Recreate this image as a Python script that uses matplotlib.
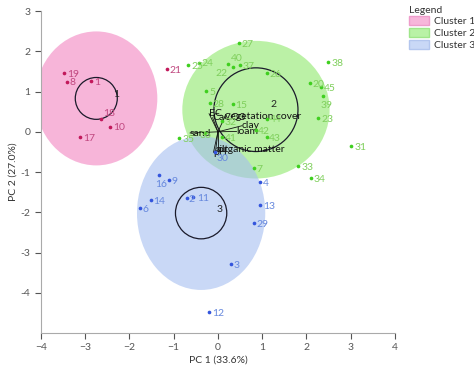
import matplotlib
matplotlib.use("Agg")
import matplotlib.pyplot as plt
import numpy as np
from matplotlib.patches import Ellipse, Patch

plt.rcParams["font.family"] = ["Lato", "DejaVu Sans"]

# region data
ids_1 = ["1", "8", "10", "17", "18", "19", "21"]
x_1 = [-2.86, -3.42, -2.44, -3.12, -2.65, -3.47, -1.15]
y_1 = [1.27, 1.25, 0.13, -0.12, 0.31, 1.46, 1.57]

ids_2 = ["5", "7", "15", "20", "22", "23", "24", "25", "26", "27", "28", "31",
         "32", "33", "34", "35", "36", "37", "38", "39", "40", "41", "42", "43",
         "44", "45"]
x_2 = [-0.26, 0.81, 0.33, 2.08, 0.23, 2.27, -0.43, -0.67, 1.10, 0.48, -0.18, 3.02,
       0.09, 1.82, 2.10, -0.87, -0.29, 0.50, 2.50, 2.38, 0.33, 0.09, 0.85, 1.10,
       1.12, 2.33]
y_2 = [1.02, -0.89, 0.69, 1.21, 1.68, 0.34, 1.72, 1.65, 1.46, 2.20, 0.71, -0.35,
       0.27, -0.84, -1.16, -0.16, -0.02, 1.65, 1.74, 0.89, 1.61, -0.12, 0.05, -0.13,
       0.33, 1.12]

ids_3 = ["2", "3", "4", "6", "9", "11", "12", "13", "14", "16", "29", "30"]
x_3 = [-0.69, 0.29, 0.95, -1.76, -1.11, -0.56, -0.20, 0.95, -1.52, -1.33, 0.81, -0.07]
y_3 = [-1.65, -3.28, -1.25, -1.89, -1.21, -1.63, -4.47, -1.83, -1.69, -1.08, -2.27, -0.50]

# cluster summary: centre, ellipse size, inner circle size
cluster_names = ["Cluster 1", "Cluster 2", "Cluster 3"]
centre_x = [-2.75, 0.86, -0.38]
centre_y = [0.83, 0.55, -2.02]
ell_w = [2.76, 3.33, 2.90]
ell_h = [3.33, 3.42, 3.82]
circ_w = [0.95, 1.90, 1.16]
circ_h = [1.04, 2.08, 1.28]
cluster_label_x = [-2.31, 1.25, 0.03]
cluster_label_y = [0.92, 0.67, -1.94]

# loadings (biplot arrows)
load_names = ["sand", "loam", "clay", "vegetation cover", "EC", "CaCO3", "organic matter", "pH", "silt"]
load_x = [-0.63, 0.42, 0.54, 0.16, -0.20, -0.12, 0.00, -0.10, -0.05]
load_y = [-0.03, 0.01, 0.15, 0.38, 0.45, 0.35, -0.43, -0.51, -0.45]
# endregion

# label placement tweaks (offset in points) where the reference puts them elsewhere
label_offsets = {
    "16": (-3, -7), "18": (2, 4), "22": (-9, -7), "40": (-1, 6), "39": (-2, -7),
    "30": (1, -5), "36": (-4, -2), "2": (1, -1), "11": (3, -1),
}

fill_cols = ["#f285c1", "#8fe96b", "#a5bef0"]
legend_cols = ["#f7b6da", "#b9f2a6", "#c9d8f6"]
edge_cols = ["#ee9ccb", "#9fe68a", "#b3c6ee"]
dot_cols = ["#c2185b", "#3fcf1f", "#3355dd"]
txt_cols = ["#c0477f", "#7fcf5c", "#6688dd"]

fig = plt.figure(figsize=(4.74, 3.70), dpi=100)
ax = fig.add_axes([0.0865, 0.10, 0.7465, 0.87])

for i in range(3):
    e = Ellipse((centre_x[i], centre_y[i]), ell_w[i], ell_h[i],
                facecolor=fill_cols[i], edgecolor="none", alpha=0.6, zorder=1)
    ax.add_patch(e)
for i in range(3):
    c = Ellipse((centre_x[i], centre_y[i]), circ_w[i], circ_h[i],
                facecolor="none", edgecolor="#1a1a2a", linewidth=0.9, zorder=3)
    ax.add_patch(c)
    ax.text(cluster_label_x[i], cluster_label_y[i], str(i + 1), fontsize=7.5,
            color="#222222", ha="center", va="center", zorder=4)

groups = [(ids_1, x_1, y_1), (ids_2, x_2, y_2), (ids_3, x_3, y_3)]
for i, (ids, xs, ys) in enumerate(groups):
    ax.scatter(xs, ys, s=7, color=dot_cols[i], zorder=5, linewidths=0)
    for lab, px, py in zip(ids, xs, ys):
        off = label_offsets.get(lab, (2, -1))
        ax.annotate(lab, (px, py), xytext=off, textcoords="offset points",
                    fontsize=7.5, color=txt_cols[i], va="center", zorder=5)

for name, lx, ly in zip(load_names, load_x, load_y):
    ax.plot([0, lx], [0, ly], color="#111111", linewidth=0.6, zorder=4)
    ax.text(lx, ly, name, fontsize=7.5, color="#111111",
            ha="left", va="center", zorder=4)

ax.set_xlim(-4, 4)
ax.set_ylim(-5, 3)
ax.set_xticks(np.arange(-4, 5, 1))
ax.set_yticks(np.arange(-4, 4, 1))
ax.set_xticklabels(["\u22124", "\u22123", "\u22122", "\u22121", "0", "1", "2", "3", "4"])
ax.set_yticklabels(["-4", "-3", "-2", "-1", "0", "1", "2", "3"])
ax.tick_params(labelsize=7.5, colors="#555555", length=4, width=0.8, direction="out")
ax.set_xlabel("PC 1 (33.6%)", fontsize=7.5, color="#333333", labelpad=2)
ax.set_ylabel("PC 2 (27.0%)", fontsize=7.5, color="#333333", labelpad=2)
for side in ["top", "right"]:
    ax.spines[side].set_visible(False)
for side in ["left", "bottom"]:
    ax.spines[side].set_color("#aaaaaa")
    ax.spines[side].set_linewidth(0.8)

handles = [Patch(facecolor=legend_cols[i], edgecolor=edge_cols[i], label=cluster_names[i]) for i in range(3)]
leg = fig.legend(handles=handles, title="Legend", loc="upper left",
                 bbox_to_anchor=(0.862, 0.985), frameon=False, fontsize=7.5,
                 title_fontsize=7.5, handlelength=2.0, handleheight=1.0,
                 handletextpad=0.4, labelspacing=0.15, borderaxespad=0,
                 borderpad=0)
leg._legend_box.align = "left"
for t in leg.get_texts():
    t.set_color("#333333")
leg.get_title().set_color("#333333")

fig.savefig("out.png", dpi=100)
